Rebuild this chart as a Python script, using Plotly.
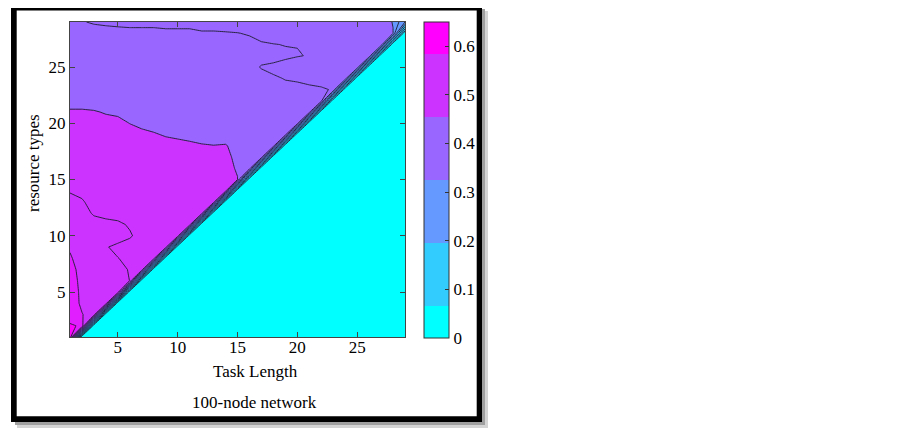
import plotly.graph_objects as go

# grid of the contour map: task length (x) and resource types (y)
task_length = [1, 2, 3, 4, 5, 6, 7, 8, 9, 10, 11, 12, 13, 14, 15, 16, 17, 18, 19, 20,
               21, 22, 23, 24, 25, 26, 27, 28, 29]
resource_types = [1, 2, 3, 4, 5, 6, 7, 8, 9, 10, 11, 12, 13, 14, 15, 16, 17, 18, 19, 20,
                  21, 22, 23, 24, 25, 26, 27, 28, 29]

# one row per resource-type value (y = 1 .. 29), columns are task length 1 .. 29
z_rows = [
    [0.64] + [0] * 28,
    [0.605, 0.595] + [0] * 27,
    [0.58, 0.552, 0.53] + [0] * 26,
    [0.575, 0.542, 0.53, 0.53] + [0] * 25,
    [0.57, 0.542, 0.53, 0.53, 0.53] + [0] * 24,
    [0.565, 0.541, 0.53, 0.53, 0.53, 0.499] + [0] * 23,
    [0.56, 0.54, 0.53, 0.525, 0.52, 0.495, 0.48] + [0] * 22,
    [0.555, 0.53, 0.525, 0.52, 0.501, 0.49, 0.48, 0.475] + [0] * 21,
    [0.545, 0.525, 0.52, 0.503, 0.49, 0.49, 0.485, 0.48, 0.475] + [0] * 20,
    [0.535, 0.52, 0.515, 0.51, 0.52, 0.503, 0.49, 0.485, 0.48, 0.475] + [0] * 19,
    [0.525, 0.515, 0.51, 0.506, 0.505, 0.497, 0.49, 0.487, 0.483, 0.48, 0.475] + [0] * 18,
    [0.515, 0.51, 0.497, 0.494, 0.49, 0.49, 0.488, 0.487, 0.485, 0.482, 0.478, 0.472] + [0] * 17,
    [0.508, 0.503, 0.49, 0.49, 0.488, 0.488, 0.486, 0.485, 0.484, 0.482, 0.48, 0.475,
     0.472] + [0] * 16,
    [0.498, 0.493, 0.487, 0.487, 0.485, 0.485, 0.484, 0.483, 0.482, 0.48, 0.478, 0.476,
     0.474, 0.47] + [0] * 15,
    [0.49, 0.488, 0.484, 0.484, 0.482, 0.482, 0.482, 0.48, 0.48, 0.478, 0.476, 0.474,
     0.472, 0.468, 0.452] + [0] * 14,
    [0.485, 0.484, 0.48, 0.48, 0.48, 0.48, 0.478, 0.477, 0.478, 0.475, 0.473, 0.47,
     0.468, 0.465, 0.445, 0.43] + [0] * 13,
    [0.48, 0.48, 0.477, 0.477, 0.477, 0.477, 0.474, 0.472, 0.474, 0.47, 0.468, 0.463,
     0.46, 0.46, 0.44, 0.43, 0.425] + [0] * 12,
    [0.475, 0.475, 0.474, 0.474, 0.475, 0.474, 0.468, 0.465, 0.47, 0.465, 0.46, 0.454,
     0.451, 0.453, 0.435, 0.43, 0.425, 0.425] + [0] * 11,
    [0.47, 0.47, 0.47, 0.472, 0.472, 0.47, 0.46, 0.455, 0.445, 0.44, 0.435, 0.43,
     0.43, 0.43, 0.43, 0.428, 0.425, 0.42, 0.42] + [0] * 10,
    [0.465, 0.465, 0.465, 0.47, 0.465, 0.449, 0.44, 0.43, 0.43, 0.43, 0.43, 0.425,
     0.425, 0.425, 0.425, 0.425, 0.425, 0.42, 0.42, 0.42] + [0] * 9,
    [0.46, 0.46, 0.455, 0.445, 0.44, 0.43, 0.43, 0.425, 0.425, 0.425, 0.425, 0.425,
     0.425, 0.425, 0.425, 0.425, 0.425, 0.42, 0.42, 0.42, 0.42] + [0] * 8,
    [0.42, 0.42, 0.42, 0.425, 0.425, 0.425, 0.425, 0.425, 0.425, 0.425, 0.425, 0.425,
     0.425, 0.425, 0.425, 0.425, 0.425, 0.42, 0.42, 0.415, 0.415, 0.42] + [0] * 7,
    [0.425] * 16 + [0.415, 0.41, 0.41, 0.41, 0.407, 0.403, 0.398] + [0] * 6,
    [0.425] * 16 + [0.41, 0.405, 0.398, 0.395, 0.39, 0.39, 0.39, 0.39] + [0] * 5,
    [0.425] * 15 + [0.41, 0.398, 0.39, 0.39, 0.38, 0.385, 0.385, 0.385, 0.385, 0.39] + [0] * 4,
    [0.425] * 15 + [0.415, 0.41, 0.417, 0.405, 0.402, 0.398, 0.385, 0.385, 0.385, 0.385,
                    0.39] + [0] * 3,
    [0.42, 0.42] + [0.425] * 13 + [0.41, 0.405, 0.401, 0.399, 0.399, 0.39, 0.385, 0.385,
                                   0.385, 0.385, 0.385, 0.385] + [0] * 2,
    [0.42, 0.415, 0.42, 0.42, 0.42, 0.415, 0.415, 0.415, 0.41, 0.41, 0.41, 0.405, 0.405,
     0.403, 0.401, 0.397, 0.385, 0.385, 0.385, 0.385, 0.385, 0.385, 0.385, 0.385, 0.385,
     0.385, 0.38, 0.352, 0],
    [0.42, 0.403, 0.395, 0.39, 0.385, 0.385, 0.385, 0.385, 0.385, 0.385, 0.385, 0.38,
     0.38, 0.38, 0.38, 0.38, 0.38, 0.38, 0.38, 0.38, 0.38, 0.38, 0.38, 0.38, 0.38,
     0.375, 0.37, 0.348, 0.25],
]

x_ticks = [5, 10, 15, 20, 25]
y_ticks = [5, 10, 15, 20, 25]
cbar_ticks = [0, 0.1, 0.2, 0.3, 0.4, 0.5, 0.6]
cbar_labels = ['0', '0.1', '0.2', '0.3', '0.4', '0.5', '0.6']

# colour bands shown on the colour bar (value edges)
band_edges = [0, 0.065, 0.195, 0.325, 0.455, 0.585, 0.65]
band_colors = ['#00FFFF', '#33CCFF', '#6699FF', '#9966FF', '#CC33FF', '#FF00FF']

# contour levels 0.05 .. 0.6, fill colour per band (below 0.05, then above each level)
lev_start, lev_end, lev_size = 0.05, 0.6, 0.05
fill_colors = ['#00FFFF', '#33CCFF', '#33CCFF', '#33CCFF', '#6699FF', '#6699FF', '#6699FF',
               '#9966FF', '#9966FF', '#CC33FF', '#CC33FF', '#E01EFF', '#FF00FF']

n = len(fill_colors)
fill_scale = []
for k, c in enumerate(fill_colors):
    fill_scale.append([max(0.0, (k - 0.5) / (n - 1)), c])
    fill_scale.append([min(1.0, (k + 0.5) / (n - 1)), c])

cb_scale = []
for i, c in enumerate(band_colors):
    cb_scale.append([band_edges[i] / 0.65, c])
    cb_scale.append([band_edges[i + 1] / 0.65, c])

# the page puts the figure 8px in from the top-left corner
OFF = 8
W, H = 902, 430
L, R, T, B = 70 - OFF, 497 + OFF, 22 - OFF, 93 + OFF
pw, ph = W - L - R, H - T - B


def px(x):
    return (x - OFF - L) / pw


def py(y):
    return (H - B - (y - OFF)) / ph


def box(x0, y0, x1, y1, color):
    return dict(type='rect', xref='paper', yref='paper', x0=px(x0), x1=px(x1),
                y0=py(y1), y1=py(y0), line=dict(width=0), fillcolor=color)


FONT = 'Liberation Serif'

contour = go.Contour(
    x=task_length, y=resource_types, z=z_rows,
    contours=dict(start=lev_start, end=lev_end, size=lev_size, coloring='fill'),
    colorscale=fill_scale,
    line=dict(color='#1c1c2c', width=0.9, smoothing=0),
    showscale=False,
    hoverinfo='skip',
)

cbar_trace = go.Scatter(
    x=[None], y=[None], mode='markers', showlegend=False, hoverinfo='skip',
    marker=dict(
        color=[0], cmin=0, cmax=0.65, colorscale=cb_scale, showscale=True,
        colorbar=dict(
            x=px(424), xanchor='left', y=py(180), yanchor='middle',
            thickness=25, thicknessmode='pixels', len=316, lenmode='pixels',
            outlinewidth=1, outlinecolor='#333333',
            tickvals=cbar_ticks, ticktext=cbar_labels,
            ticks='inside', ticklen=4, tickcolor='#333333',
            tickfont=dict(family=FONT, size=17, color='black'),
            xpad=0, ypad=0,
        ),
    ),
)

fig = go.Figure(data=[contour, cbar_trace])

axis_style = dict(
    range=[1, 29], showgrid=False, zeroline=False,
    showline=True, linecolor='#444444', linewidth=1, mirror='allticks',
    ticks='inside', ticklen=5, tickcolor='#444444',
    tickfont=dict(family=FONT, size=17, color='black'),
)
fig.update_xaxes(tickvals=x_ticks, ticklabelstandoff=-5, **axis_style)
fig.update_yaxes(tickvals=y_ticks, **axis_style)

shapes = [
    # drop shadow of the frame
    box(482, 9, 485, 425, '#a0a0a0'),
    box(485, 11, 488, 427, '#d4d4d4'),
    box(15, 422, 485, 425, '#a0a0a0'),
    box(17, 425, 488, 428, '#d4d4d4'),
    # black frame (the top edge starts where the page begins)
    box(11, 8, 482, 10.5, 'black'),
    box(11, 8, 16.7, 422, 'black'),
    box(476.7, 8, 482, 422, 'black'),
    box(11, 416.3, 482, 422, 'black'),
]

annotations = [
    dict(text='Task Length', x=px(255.5), y=py(371.5), xref='paper', yref='paper',
         showarrow=False, xanchor='center', yanchor='middle',
         font=dict(family=FONT, size=17, color='black')),
    dict(text='100-node network', x=px(254), y=py(402), xref='paper', yref='paper',
         showarrow=False, xanchor='center', yanchor='middle',
         font=dict(family=FONT, size=17, color='black')),
    dict(text='resource types', x=px(33), y=py(163), xref='paper', yref='paper',
         showarrow=False, xanchor='center', yanchor='middle', textangle=-90,
         font=dict(family=FONT, size=17, color='black')),
]

fig.update_layout(
    width=W, height=H,
    margin=dict(l=L, r=R, t=T, b=B, autoexpand=False),
    paper_bgcolor='white', plot_bgcolor='white',
    showlegend=False,
    shapes=shapes,
    annotations=annotations,
)

fig.write_html("out.html")
